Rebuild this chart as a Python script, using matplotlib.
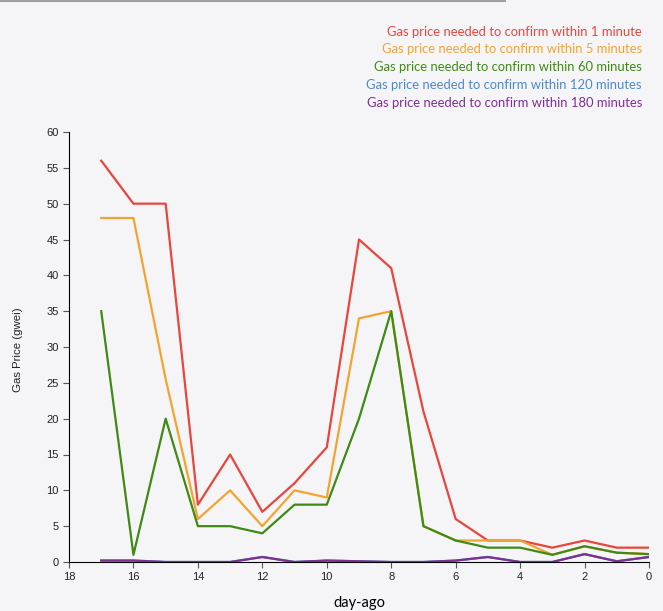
import matplotlib.pyplot as plt
from matplotlib.lines import Line2D

days = [17, 16, 15, 14, 13, 12, 11, 10, 9, 8, 7, 6, 5, 4, 3, 2, 1, 0]
gas_1min = [56, 50, 50, 8, 15, 7, 11, 16, 45, 41, 21, 6, 3, 3, 2, 3, 2, 2]
gas_5min = [48, 48, 25.5, 6, 10, 5, 10, 9, 34, 35, 5, 3, 3, 3, 1, 2.2, 1.3, 1.1]
gas_60min = [35, 1, 20, 5, 5, 4, 8, 8, 20, 35, 5, 3, 2, 2, 1, 2.2, 1.3, 1.1]
gas_120min = [0.2, 0.2, 0, 0, 0, 0.7, 0, 0.2, 0.1, 0, 0, 0.2, 0.7, 0, 0, 1.1, 0.1, 0.7]
gas_180min = [0.2, 0.2, 0, 0, 0, 0.7, 0, 0.2, 0.1, 0, 0, 0.2, 0.7, 0, 0, 1.1, 0.1, 0.7]

series = [
    ("Gas price needed to confirm within 1 minute", gas_1min, "#e8453c"),
    ("Gas price needed to confirm within 5 minutes", gas_5min, "#f2a431"),
    ("Gas price needed to confirm within 60 minutes", gas_60min, "#3f8a14"),
    ("Gas price needed to confirm within 120 minutes", gas_120min, "#4f88c6"),
    ("Gas price needed to confirm within 180 minutes", gas_180min, "#7d3092"),
]

bg = "#f5f5f7"
fig = plt.figure(figsize=(6.63, 6.11), dpi=100, facecolor=bg)
ax = fig.add_axes([69 / 663, 49 / 611, 580 / 663, 430 / 611])
ax.set_facecolor(bg)

for label, vals, color in series:
    ax.plot(days, vals, color=color, lw=1.6, label=label)

ax.set_xlim(18, 0)
ax.set_ylim(0, 60)
ax.set_xticks(range(0, 19, 2))
ax.set_yticks(range(0, 61, 5))
for s in ["top", "right"]:
    ax.spines[s].set_visible(False)
ax.tick_params(labelsize=8, length=4, color="#555555", labelcolor="#222222")
for t in ax.get_xticklabels() + ax.get_yticklabels():
    t.set_family("Liberation Sans")
ax.set_xlabel("day-ago", fontsize=10.5, family="Lato", labelpad=10)
fig.text(18 / 663, 1 - 350 / 611, "Gas Price (gwei)", rotation=90,
         fontsize=8.2, va="center", ha="center", color="#222222",
         family="Liberation Sans")

# legend as coloured text lines
ys = [32, 49, 67, 85, 103]
for (label, vals, color), y in zip(series, ys):
    fig.text(642 / 663, 1 - y / 611, label, color=color, fontsize=9.4,
             family="Lato", ha="right", va="center")

fig.add_artist(Line2D([0, 505 / 663], [1 - 0.8 / 611, 1 - 0.8 / 611],
                      color="#a0a0a0", lw=1.5, transform=fig.transFigure))

fig.savefig("out.png", dpi=100, facecolor=bg)
